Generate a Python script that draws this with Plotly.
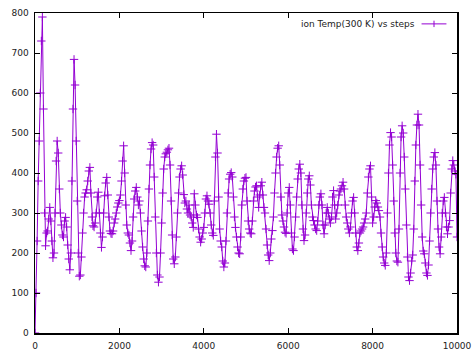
import plotly.graph_objects as go

steps = list(range(0, 10001, 25))
temps = [
    0, 100, 230, 380, 480, 600, 730, 790, 560, 300, 218, 250, 255, 285, 314, 280, 230, 188, 200, 300,
    430, 480, 450, 360, 300, 270, 245, 240, 280, 289, 265, 220, 185, 158, 200, 380, 560, 684, 620, 480,
    330, 200, 142, 145, 190, 250, 300, 340, 350, 358, 380, 405, 414, 350, 290, 268, 265, 275, 300, 340,
    352, 300, 250, 214, 240, 300, 343, 375, 389, 345, 290, 255, 249, 248, 255, 275, 285, 300, 315, 325,
    331, 345, 380, 430, 468, 400, 320, 270, 250, 245, 225, 206, 230, 290, 335, 355, 364, 340, 320, 330,
    300, 255, 215, 185, 168, 165, 200, 280, 360, 420, 460, 476, 470, 390, 290, 200, 145, 127, 140, 200,
    275, 350, 410, 440, 448, 452, 458, 462, 420, 330, 245, 185, 173, 190, 240, 300, 350, 390, 410, 418,
    395, 346, 325, 330, 310, 300, 320, 295, 290, 275, 264, 348, 320, 295, 289, 260, 240, 227, 235, 250,
    264, 300, 335, 343, 330, 322, 300, 270, 250, 244, 330, 440, 497, 450, 340, 260, 230, 215, 180, 165,
    175, 230, 300, 350, 385, 397, 401, 390, 340, 290, 264, 240, 215, 200, 198, 240, 320, 360, 380, 387,
    389, 330, 280, 260, 250, 248, 280, 330, 355, 365, 368, 340, 314, 345, 368, 377, 345, 314, 300, 260,
    220, 195, 181, 200, 235, 256, 290, 350, 400, 440, 462, 468, 420, 340, 295, 280, 265, 252, 249, 300,
    350, 364, 320, 250, 210, 206, 240, 290, 340, 385, 410, 422, 400, 320, 260, 231, 245, 300, 350, 385,
    393, 370, 320, 290, 281, 270, 260, 256, 280, 320, 340, 348, 320, 270, 248, 270, 300, 314, 300, 285,
    275, 290, 340, 356, 320, 285, 300, 320, 345, 355, 360, 368, 377, 360, 320, 290, 275, 260, 250, 265,
    300, 330, 339, 300, 250, 215, 206, 225, 250, 255, 260, 265, 275, 285, 300, 350, 390, 410, 418, 340,
    275, 290, 315, 331, 325, 315, 306, 290, 250, 215, 190, 175, 169, 200, 300, 400, 470, 501, 490, 420,
    330, 250, 200, 180, 177, 260, 400, 490, 518, 500, 440, 360, 270, 190, 140, 131, 150, 180, 195, 260,
    380, 470, 520, 547, 520, 420, 320, 240, 205, 198, 175, 150, 144, 170, 230, 300, 360, 410, 440, 451,
    420, 330, 260, 215, 198, 240, 300, 330, 339, 300, 265, 248, 265, 281, 350, 410, 431, 420, 405, 397,
    240,
]
x_ticks = [0, 2000, 4000, 6000, 8000, 10000]
x_tick_labels = ["0", "2000", "4000", "6000", "8000", "10000"]
y_ticks = [0, 100, 200, 300, 400, 500, 600, 700, 800]
y_tick_labels = ["0", "100", "200", "300", "400", "500", "600", "700", "800"]
series_name = "ion Temp(300 K) vs steps"

n = min(len(steps), len(temps))
steps, temps = steps[:n], temps[:n]

color = "#9400D3"
font = dict(family="DejaVu Sans", size=9, color="#222222")

fig = go.Figure()
fig.add_trace(go.Scatter(
    x=steps, y=temps, mode="lines+markers",
    line=dict(color=color, width=1),
    marker=dict(symbol="cross-thin", size=6, color=color,
                line=dict(color=color, width=1)),
    showlegend=False, hoverinfo="skip",
))

axis_common = dict(
    showline=True, linecolor="black", linewidth=1.5, mirror="ticks",
    ticks="inside", ticklen=5, tickwidth=1, tickcolor="black",
    showgrid=False, zeroline=False, tickfont=font, automargin=False,
    tickmode="array",
)
fig.update_xaxes(range=[0, 10000], tickvals=x_ticks, ticktext=x_tick_labels,
                 ticklabelstandoff=4, **axis_common)
fig.update_yaxes(range=[0, 800], tickvals=y_ticks, ticktext=y_tick_labels,
                 ticklabelstandoff=3, **axis_common)

# legend (gnuplot style: text left of sample)
fig.add_annotation(xref="paper", yref="paper", x=0.905, y=0.966, xanchor="right",
                   yanchor="middle", text=series_name, showarrow=False, font=font)
fig.add_shape(type="line", xref="paper", yref="paper", x0=0.916, x1=0.975,
              y0=0.966, y1=0.966, line=dict(color=color, width=1))
fig.add_shape(type="line", xref="paper", yref="paper", x0=0.9455, x1=0.9455,
              y0=0.956, y1=0.976, line=dict(color=color, width=1))

fig.update_layout(
    width=474, height=355,
    margin=dict(l=35, r=17, t=13, b=22),
    plot_bgcolor="white", paper_bgcolor="white",
    font=font, hovermode=False,
)
fig.write_html("out.html", config={"displayModeBar": False, "staticPlot": True},
               post_script="document.body.style.margin='0';document.body.style.overflow='hidden';")
